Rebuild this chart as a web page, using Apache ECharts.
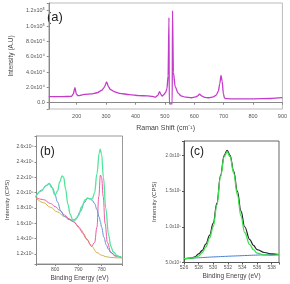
<!DOCTYPE html>
<html><head><meta charset="utf-8">
<script src="https://cdn.jsdelivr.net/npm/echarts/dist/echarts.min.js"></script>
<style>html,body{margin:0;padding:0;background:#fff}#c{width:290px;height:284px}</style>
</head><body><div id="c"></div>
<script>
// ---- Panel (a): Raman ----
const ramanShift = [105,150,182,188,194,199,205,226,250,269,285,293,302,308,315,330,346,380,412,440,458,468,476,482,487,491,496,502,507,511,514,515,525,526,529,535,545,555,570,590,605,612,618,625,635,650,665,675,682,687,691,695,699,703,710,740,800,860,900];
const ramanIntensity = [8000,8000,8200,11000,19500,11000,9200,10800,11500,13000,16000,19500,27000,21000,17000,14000,12200,10500,9200,9000,8200,7200,9500,14500,10500,8700,10500,13000,18000,35000,111000,-1500,-1500,120000,40000,21000,12500,9000,7200,6500,7500,9000,11000,9000,7000,6500,7500,10000,15000,25000,35500,28000,12000,6000,5200,5000,5100,5500,6500];
const ramanYTicks = [0,20000,40000,60000,80000,100000,120000];
const ramanXTicks = [200,300,400,500,600,700,800,900];

// ---- Panel (b): Co 2p XPS ----
const coBE = [808.5,806,804,802.5,801.5,800,799,798,797,796.3,795.5,794.5,793.5,792.5,791.5,790,788.5,787,786,785,784,783,782,781,780.6,780,779.2,778.2,777,776,775,773,771];
const coEnvelope = [194000,202000,209000,212000,207000,197000,202000,214000,222000,220000,205000,185000,172000,165000,164000,170000,182000,191000,193000,192000,192000,200000,225000,252000,257000,250000,220000,180000,145000,130000,123000,117000,115000];
const coBE2 = [808.5,806,803.5,802.5,801,800,799,797.5,796,794,792.5,791,789,787.5,786,785,784,783,782,781,780.5,780,779,778,777,776,774,771];
const coComponentBlue = [194000,203000,210000,212000,206000,197000,188000,176000,169000,165000,164000,166000,176000,187000,193000,192000,190000,186000,178000,168000,162000,155000,142000,132000,126000,122000,118000,115000];
const coBE3 = [808.5,805,802,800,798,796,794,792,790,788,786,785,784.3,783,782,781.2,780.5,780,779.3,778.5,777.5,776,774,771];
const coComponentPink = [194000,191000,186000,182000,177000,171000,166000,162000,156000,147000,138000,133000,130000,135000,155000,195000,223000,220000,195000,160000,135000,122000,117000,115000];
const coBE4 = [808.5,805,802,799,796,792,789,786.5,784.3,782,780,778,776,773,771];
const coBackground = [194000,187000,181000,175000,169000,162000,152000,140000,130000,122000,118500,116500,115500,115000,115000];
const coYTicks = [120000,140000,160000,180000,200000,220000,240000,260000];
const coXTicks = [780,790,800];

// ---- Panel (c): O 1s XPS ----
const oBE = [526,527,527.5,528,528.5,529,529.5,530,530.5,531,531.5,531.9,532.3,532.8,533.3,533.8,534.3,535,535.5,536,537,538,539];
const oRaw = [55000,56000,58000,62000,67000,76000,88000,105000,133000,172000,200000,207000,200000,178000,150000,122000,100000,82000,74000,68000,64000,62000,61000];
const oFit = [55500,56000,57000,59000,64000,72000,84000,100000,130000,170000,198000,205000,198000,175000,145000,115000,92000,75000,68000,63000,60500,60000,61000];
const oBg = [55500,56000,56300,56600,56900,57200,57500,57800,58000,58300,58500,58700,58900,59100,59300,59500,59700,60000,60200,60400,60700,60900,61000];
const oYTicks = [50000,100000,150000,200000];
const oXTicks = [526,528,530,532,534,536,538];

const SUP = {'0':'⁰','1':'¹','2':'²','3':'³','4':'⁴','5':'⁵','6':'⁶','7':'⁷','8':'⁸','9':'⁹'};
function sci(v){
  if (v === 0) return '0.0';
  const e = Math.floor(Math.log10(v) + 1e-9);
  const m = v / Math.pow(10, e);
  return m.toFixed(1) + 'x10' + String(e).split('').map(d => SUP[d]).join('');
}
function pick(list, fmt){ return v => list.some(t => Math.abs(t - v) < 1e-6) ? fmt(v) : ''; }
const zip = (a, b) => a.map((x, i) => [x, b[i]]);

const FONT = 'Liberation Sans, Arial, sans-serif';
const lab = (size) => ({fontSize: size, color: '#555', fontFamily: FONT});
const nameStyle = (size) => ({fontSize: size, color: '#444', fontFamily: FONT});

const chart = echarts.init(document.getElementById('c'), null, {renderer: 'canvas'});
chart.setOption({
  animation: false,
  backgroundColor: '#fff',
  grid: [
    {left: 40, top: 3, width: 243, height: 106, show: true, borderColor: '#bbb', borderWidth: 1},
    {left: 36.5, top: 136, width: 86, height: 128, show: true, borderColor: '#999', borderWidth: 1},
    {left: 184, top: 141, width: 95, height: 121.5, show: true, borderColor: '#666', borderWidth: 1}
  ],
  xAxis: [
    {gridIndex: 0, type: 'value', min: 105, max: 900, splitNumber: 8,
     axisLine: {lineStyle: {color: '#888'}}, axisTick: {length: 2, lineStyle: {color: '#888'}},
     axisLabel: Object.assign(lab(5.5), {margin: 4, formatter: pick(ramanXTicks, v => String(v))}),
     splitLine: {show: false},
     name: 'Raman Shift (cm⁻¹)', nameLocation: 'middle', nameGap: 16, nameTextStyle: nameStyle(7)},
    {gridIndex: 1, type: 'value', min: 771, max: 808, splitNumber: 4, inverse: true,
     axisLine: {lineStyle: {color: '#888'}}, axisTick: {length: 2, lineStyle: {color: '#888'}},
     axisLabel: Object.assign(lab(5), {margin: 3, formatter: pick(coXTicks, v => String(v))}),
     splitLine: {show: false},
     name: 'Binding Energy (eV)', nameLocation: 'middle', nameGap: 11, nameTextStyle: nameStyle(6.5)},
    {gridIndex: 2, type: 'value', min: 526, max: 539, interval: 2,
     axisLine: {lineStyle: {color: '#555'}}, axisTick: {length: 2, lineStyle: {color: '#555'}},
     axisLabel: Object.assign(lab(5), {margin: 3, formatter: pick(oXTicks, v => String(v))}),
     splitLine: {show: false},
     name: 'Binding Energy (eV)', nameLocation: 'middle', nameGap: 10, nameTextStyle: nameStyle(6.5)}
  ],
  yAxis: [
    {gridIndex: 0, type: 'value', min: -8200, max: 130000, splitNumber: 7,
     axisLine: {show: true, lineStyle: {color: '#888'}}, axisTick: {show: true, length: 2, lineStyle: {color: '#888'}},
     axisLabel: Object.assign(lab(5.5), {margin: 4, formatter: pick(ramanYTicks, sci)}),
     splitLine: {show: false},
     name: 'Intensity (A.U)', nameLocation: 'middle', nameGap: 30, nameTextStyle: nameStyle(6.5)},
    {gridIndex: 1, type: 'value', min: 107000, max: 274000, splitNumber: 8,
     axisLine: {show: true, lineStyle: {color: '#888'}}, axisTick: {show: true, length: 2, lineStyle: {color: '#888'}},
     axisLabel: Object.assign(lab(5), {margin: 3, formatter: pick(coYTicks, sci)}),
     splitLine: {show: false},
     name: 'Intensity (CPS)', nameLocation: 'middle', nameGap: 26, nameTextStyle: nameStyle(6)},
    {gridIndex: 2, type: 'value', min: 50000, max: 220000, interval: 50000,
     axisLine: {show: true, lineStyle: {color: '#555'}}, axisTick: {show: true, length: 2, lineStyle: {color: '#555'}},
     axisLabel: Object.assign(lab(4.5), {margin: 3, formatter: pick(oYTicks, sci)}),
     splitLine: {show: false},
     name: 'Intensity (CPS)', nameLocation: 'middle', nameGap: 27, nameTextStyle: nameStyle(6)}
  ],
  series: [
    {type: 'line', xAxisIndex: 0, yAxisIndex: 0, data: zip(ramanShift, ramanIntensity), showSymbol: false,
     smooth: 0.25, smoothMonotone: 'x', lineStyle: {color: '#c23bc9', width: 1.3}},
    {type: 'line', xAxisIndex: 1, yAxisIndex: 1, data: zip(coBE4, coBackground), showSymbol: false,
     smooth: 0.4, smoothMonotone: 'x', lineStyle: {color: '#d2b04a', width: 1}},
    {type: 'line', xAxisIndex: 1, yAxisIndex: 1, data: zip(coBE3, coComponentPink), showSymbol: false,
     smooth: 0.4, smoothMonotone: 'x', lineStyle: {color: '#ee5aa2', width: 1}},
    {type: 'line', xAxisIndex: 1, yAxisIndex: 1, data: zip(coBE2, coComponentBlue), showSymbol: false,
     smooth: 0.4, smoothMonotone: 'x', lineStyle: {color: '#5b93d6', width: 1}},
    {type: 'line', xAxisIndex: 1, yAxisIndex: 1, data: zip(coBE, coEnvelope), showSymbol: false,
     smooth: 0.4, smoothMonotone: 'x', lineStyle: {color: '#52e59a', width: 1.3}},
    {type: 'line', xAxisIndex: 2, yAxisIndex: 2, data: zip(oBE, oBg), showSymbol: false,
     smooth: 0.4, lineStyle: {color: '#3f7fd8', width: 1}},
    {type: 'line', xAxisIndex: 2, yAxisIndex: 2, data: zip(oBE, oRaw), showSymbol: false,
     smooth: 0.4, smoothMonotone: 'x', lineStyle: {color: '#222', width: 1.2}},
    {type: 'line', xAxisIndex: 2, yAxisIndex: 2, data: zip(oBE, oFit), showSymbol: false,
     smooth: 0.4, smoothMonotone: 'x', lineStyle: {color: '#3be04a', width: 1.3}}
  ],
  graphic: [
    {type: 'text', left: 47, top: 11, style: {text: '(a)', fontSize: 13, fill: '#222', fontFamily: FONT}},
    {type: 'text', left: 40, top: 146, style: {text: '(b)', fontSize: 12, fill: '#222', fontFamily: FONT}},
    {type: 'text', left: 190, top: 146, style: {text: '(c)', fontSize: 12, fill: '#222', fontFamily: FONT}}
  ]
});
</script></body></html>
